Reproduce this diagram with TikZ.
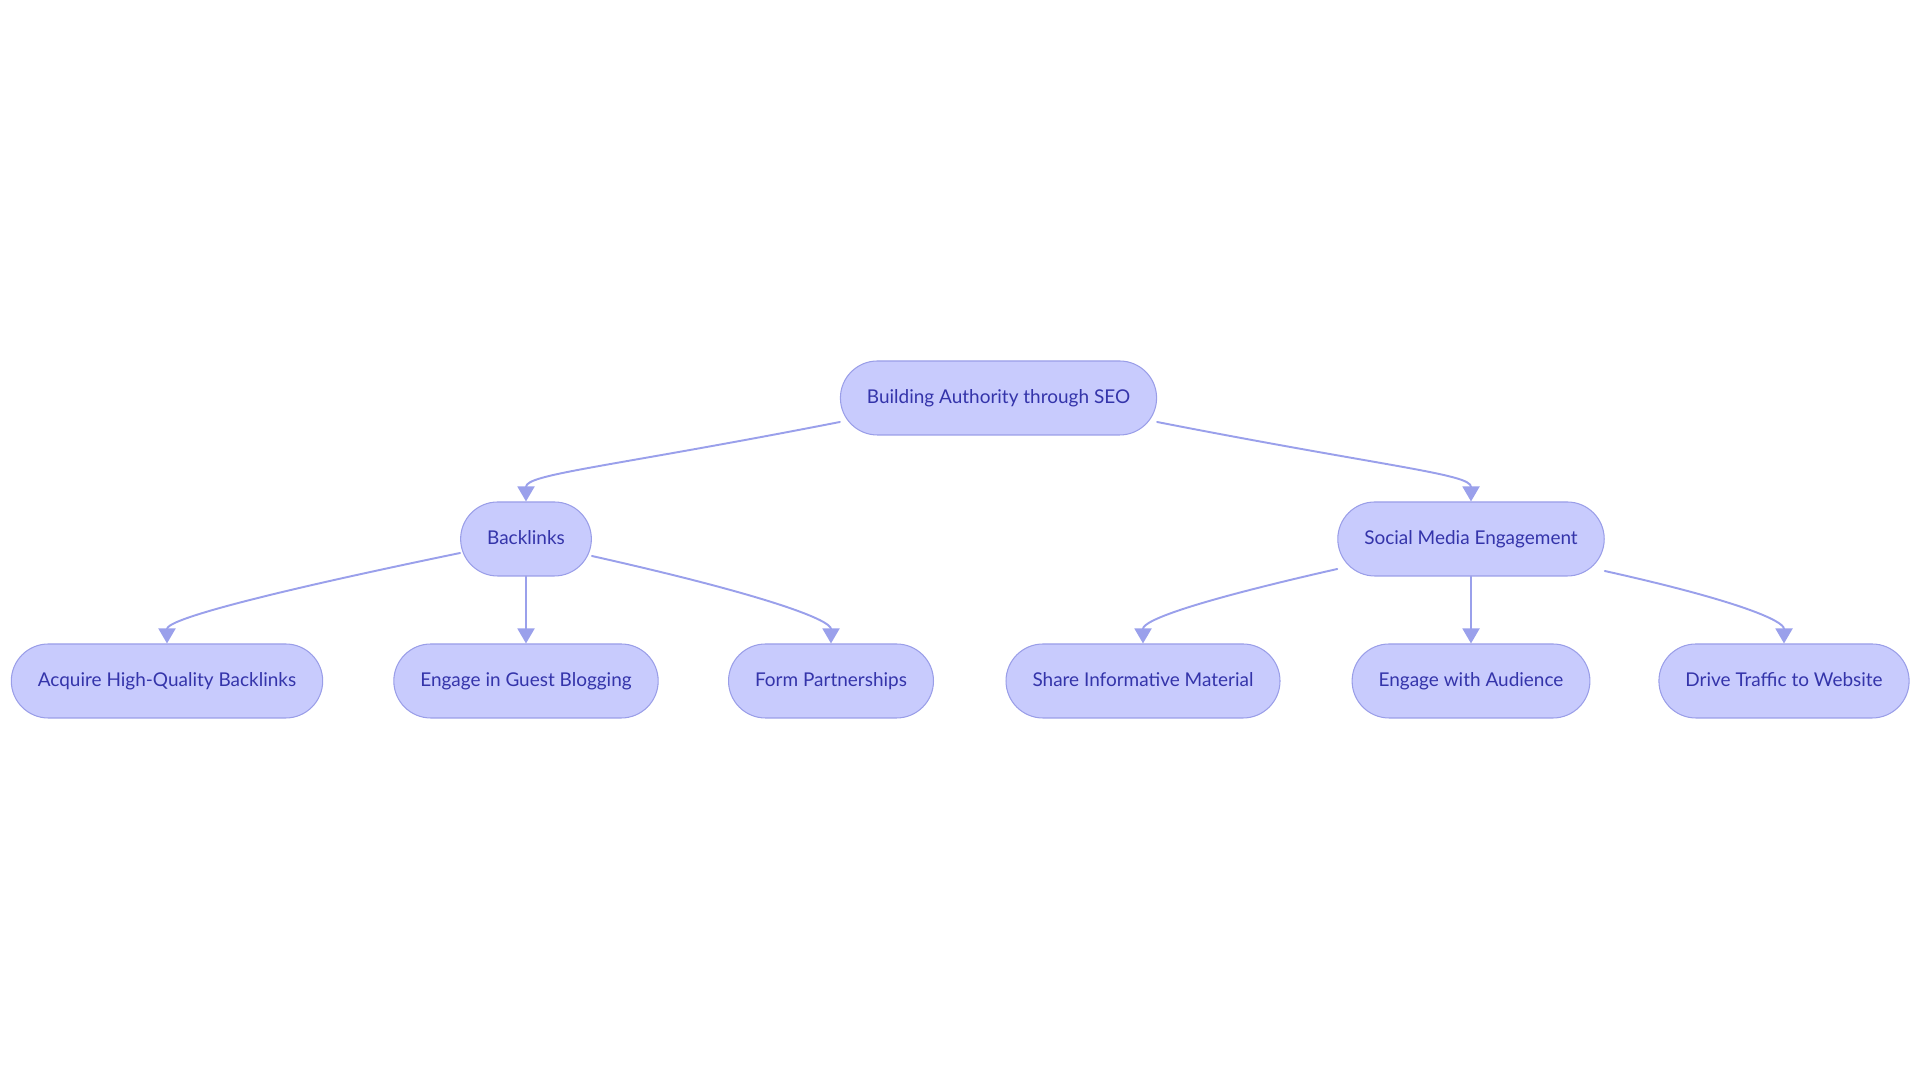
\documentclass[tikz,border=0pt]{standalone}
\usepackage{fontspec}
\setmainfont{Lato}
\usetikzlibrary{arrows.meta}
\definecolor{boxfill}{RGB}{200,203,253}
\definecolor{boxline}{RGB}{154,158,232}
\definecolor{boxtext}{RGB}{52,52,170}
\definecolor{linkcol}{RGB}{154,160,235}
\tikzset{pill/.style={draw=boxline,fill=boxfill,line width=0.6pt,rounded corners=0.74cm,
   minimum height=1.48cm,inner xsep=0.53cm,text=boxtext,text height=0.82em,text depth=0.16em,
   font=\fontsize{10.8}{13}\selectfont},
 link/.style={draw=linkcol,line width=1.1pt,-{Triangle[width=0.34cm,length=0.3cm]}},
 every picture/.style={line join=round,line cap=round}}
\begin{document}
\begin{tikzpicture}[]
\useasboundingbox (0.000,0.000) rectangle (38.400,21.660);
\node[pill] (root) at (19.970,13.700) {Building Authority through SEO};
\node[pill] (back) at (10.520,10.880) {Backlinks};
\node[pill] (social) at (29.420,10.880) {Social Media Engagement};
\node[pill] (acq) at (3.340,8.040) {Acquire High-Quality Backlinks};
\node[pill] (guest) at (10.520,8.040) {Engage in Guest Blogging};
\node[pill] (part) at (16.620,8.040) {Form Partnerships};
\node[pill] (share) at (22.860,8.040) {Share Informative Material};
\node[pill] (aud) at (29.420,8.040) {Engage with Audience};
\node[pill] (drive) at (35.680,8.040) {Drive Traffic to Website};
\draw[link] ([yshift=-0.48cm]root.west) .. controls +(-4.6,-0.9) and +(0,0.55) .. (back.north);
\draw[link] ([yshift=-0.48cm]root.east) .. controls +(4.6,-0.9) and +(0,0.55) .. (social.north);
\draw[link] ([yshift=-0.28cm]back.west) .. controls +(-4.5,-0.93) and +(0,0.45) .. (acq.north);
\draw[link] (back.south) -- (guest.north);
\draw[link] ([yshift=-0.34cm]back.east) .. controls +(3.7,-0.83) and +(0,0.45) .. (part.north);
\draw[link] ([yshift=-0.6cm]social.west) .. controls +(-3.0,-0.68) and +(0,0.45) .. (share.north);
\draw[link] (social.south) -- (aud.north);
\draw[link] ([yshift=-0.64cm]social.east) .. controls +(2.7,-0.6) and +(0,0.45) .. (drive.north);
\end{tikzpicture}
\end{document}
